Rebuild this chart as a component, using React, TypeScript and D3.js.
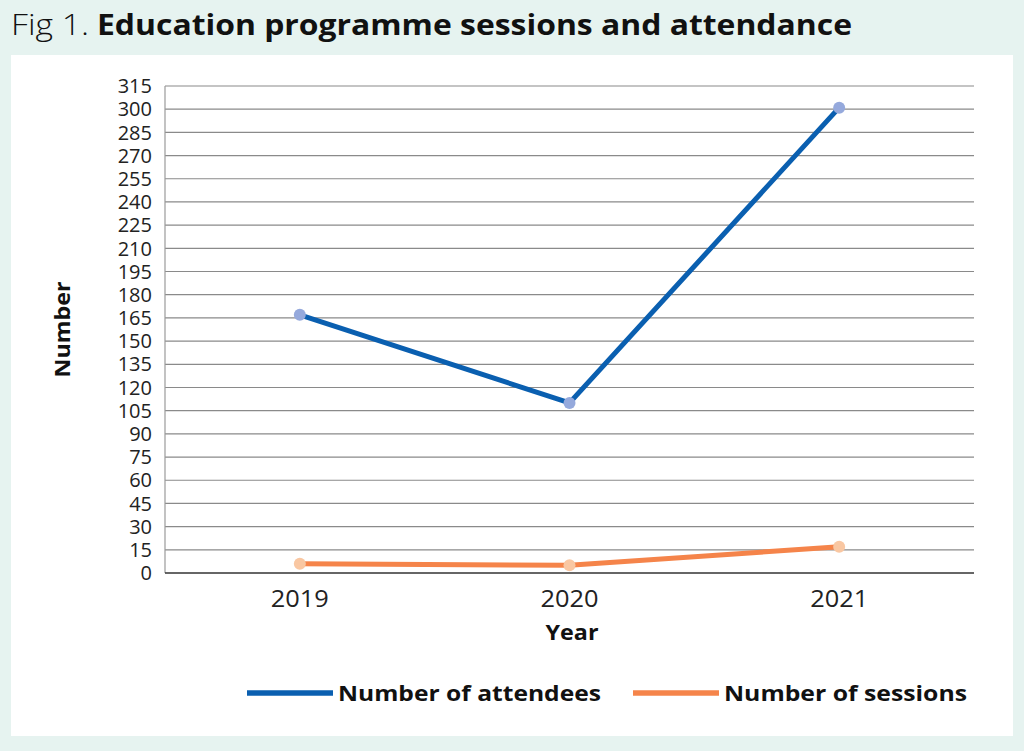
import React from "react";
import * as d3 from "d3";

const years = ["2019", "2020", "2021"];
const attendees = [167, 110, 301];
const sessions = [6, 5, 17];
const yTicks = d3.range(0, 316, 15);
const seriesNames = ["Number of attendees", "Number of sessions"];

const W = 1024;
const H = 751;
const FONT = "'Open Sans', 'Noto Sans', sans-serif";

export default function App() {
  const left = 165, right = 974, top = 86, bottom = 573;
  const x = d3.scalePoint<string>().domain(years).range([left, right]).padding(0.5);
  const y = d3.scaleLinear().domain([0, 315]).range([bottom, top]);
  const line = d3
    .line<number>()
    .x((_, i) => x(years[i]) as number)
    .y((d) => y(d));

  const series = [
    { name: seriesNames[0], values: attendees, color: "#0a5fb0", dot: "#95a9dc", lx: 247, len: 263 },
    { name: seriesNames[1], values: sessions, color: "#f5844a", dot: "#f9c7a2", lx: 633, len: 243 },
  ];

  return (
    <svg width={W} height={H} style={{ position: "absolute", left: 0, top: 0 }} fontFamily={FONT}>
      <rect x={0} y={0} width={W} height={H} fill="#e6f3f0" />
      <rect x={11} y={55} width={1002} height={681} fill="#ffffff" />
      <text x={11} y={35} fontSize={30} fontWeight={300} fill="#111" textLength={78} lengthAdjust="spacingAndGlyphs">
        Fig 1.
      </text>
      <text x={97} y={35} fontSize={29} fontWeight={700} fill="#111" textLength={755} lengthAdjust="spacingAndGlyphs">
        Education programme sessions and attendance
      </text>

      {yTicks.map((t) =>
        t === 0 ? null : (
          <line key={t} x1={left} x2={right} y1={y(t)} y2={y(t)} stroke="#8a8a8a" strokeWidth={1.2} />
        )
      )}
      <line x1={left} x2={left} y1={top} y2={bottom} stroke="#9a9a9a" strokeWidth={1.2} />
      <line x1={left} x2={right} y1={bottom} y2={bottom} stroke="#333" strokeWidth={1.3} />

      {yTicks.map((t) => (
        <text key={t} x={152} y={y(t)} dy="0.36em" textAnchor="end" fontSize={20} fill="#222">
          {t}
        </text>
      ))}
      {years.map((yr) => (
        <text key={yr} x={x(yr)} y={607} textAnchor="middle" fontSize={23} fill="#222" textLength={58} lengthAdjust="spacingAndGlyphs">
          {yr}
        </text>
      ))}
      <text
        transform={`translate(70,${(top + bottom) / 2}) rotate(-90)`}
        textAnchor="middle"
        fontSize={22}
        fontWeight={700}
        fill="#111"
        textLength={96}
        lengthAdjust="spacingAndGlyphs"
      >
        Number
      </text>
      <text x={572} y={640} textAnchor="middle" fontSize={22} fontWeight={700} fill="#111" textLength={53} lengthAdjust="spacingAndGlyphs">
        Year
      </text>

      {series.map((s) => (
        <g key={s.name}>
          <path d={line(s.values) || ""} fill="none" stroke={s.color} strokeWidth={5} />
          {s.values.map((v, i) => (
            <circle key={i} cx={x(years[i])} cy={y(v)} r={6} fill={s.dot} />
          ))}
        </g>
      ))}

      {series.map((s) => (
        <g key={s.name}>
          <line x1={s.lx} x2={s.lx + 86} y1={693} y2={693} stroke={s.color} strokeWidth={5.5} />
          <text x={s.lx + 91} y={693} dy="0.36em" fontSize={22} fontWeight={700} fill="#111" textLength={s.len} lengthAdjust="spacingAndGlyphs">
            {s.name}
          </text>
        </g>
      ))}
    </svg>
  );
}
